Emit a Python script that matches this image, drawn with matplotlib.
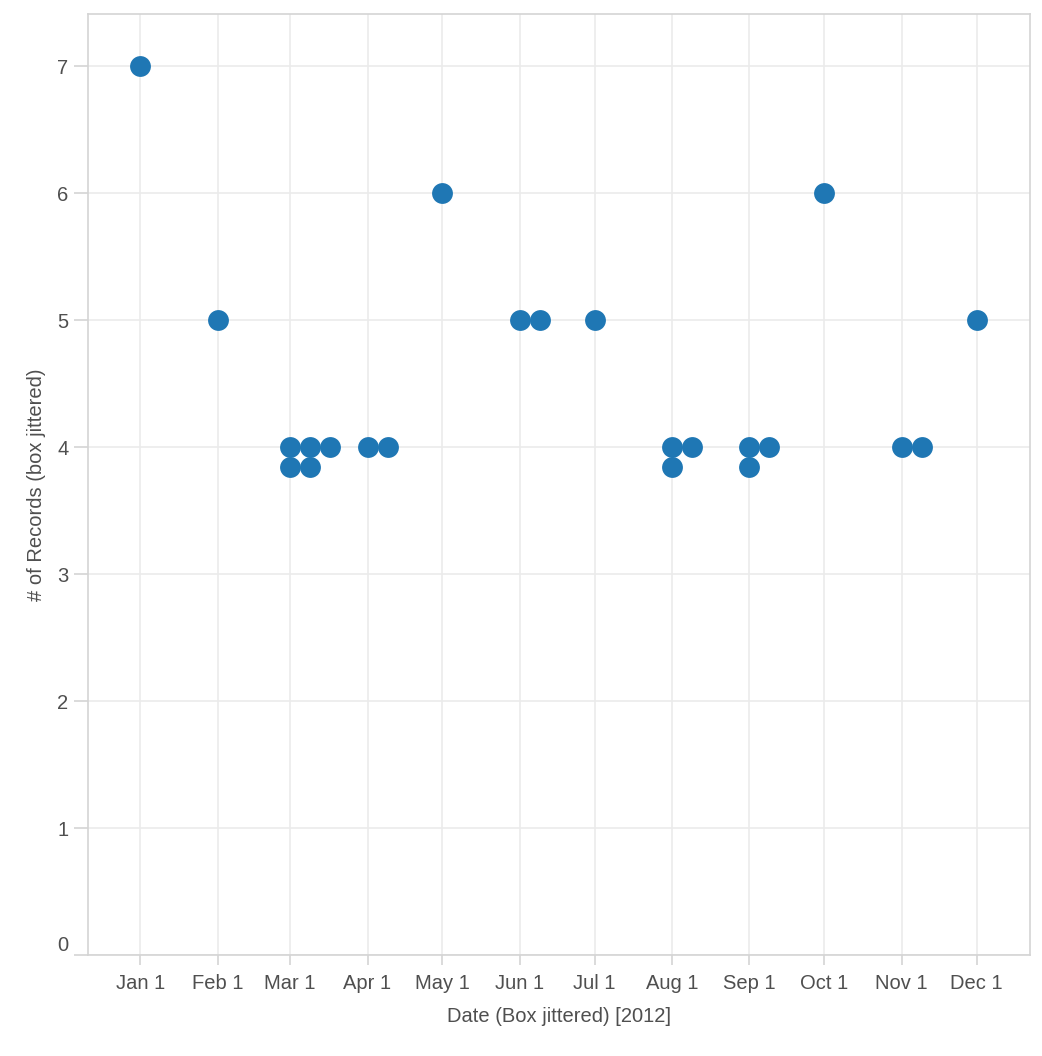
import matplotlib
matplotlib.use("Agg")
import matplotlib.pyplot as plt
import matplotlib.dates as mdates
import numpy as np
import datetime as dt

plt.rcParams['font.family'] = ['Liberation Sans', 'DejaVu Sans']

dates = ["2012-01-01", "2012-02-01",
         "2012-03-01", "2012-03-01", "2012-03-09", "2012-03-09", "2012-03-17",
         "2012-04-01", "2012-04-09",
         "2012-05-01",
         "2012-06-01", "2012-06-09",
         "2012-07-01",
         "2012-08-01", "2012-08-01", "2012-08-09",
         "2012-09-01", "2012-09-01", "2012-09-09",
         "2012-10-01",
         "2012-11-01", "2012-11-09",
         "2012-12-01"]
records = [7, 5,
           4, 3.84, 4, 3.84, 4,
           4, 4,
           6,
           5, 5,
           5,
           4, 3.84, 4,
           4, 3.84, 4,
           6,
           4, 4,
           5]
tick_dates = ["2012-%02d-01" % m for m in range(1, 13)]
tick_labels = ["Jan 1", "Feb 1", "Mar 1", "Apr 1", "May 1", "Jun 1",
               "Jul 1", "Aug 1", "Sep 1", "Oct 1", "Nov 1", "Dec 1"]
y_ticks = [0, 1, 2, 3, 4, 5, 6, 7]

W, H = 1042, 1056
fig = plt.figure(figsize=(W / 100, H / 100), dpi=100)
ax = fig.add_axes([88 / W, 1 - 955 / H, (1030 - 88) / W, (955 - 14) / H])

xd = [mdates.date2num(dt.datetime.strptime(d, "%Y-%m-%d")) for d in dates]
xt = [mdates.date2num(dt.datetime.strptime(d, "%Y-%m-%d")) for d in tick_dates]

ax.scatter(xd, records, s=225, color="#1f77b4", zorder=3, linewidths=0)

jan1 = xt[0]
ax.set_xlim(jan1 - 21, xt[-1] + 21.4)
ax.set_ylim(0, 7.41)

ax.set_xticks(xt)
ax.set_xticklabels(tick_labels)
ax.set_yticks(y_ticks)
ax.set_yticklabels([str(v) for v in y_ticks])

grid_c = "#ebebeb"
frame_c = "#d4d4d4"
txt_c = "#4f4f4f"
ax.grid(True, color=grid_c, linewidth=1.2, zorder=0)
ax.set_axisbelow(True)
for s in ax.spines.values():
    s.set_color(frame_c)
    s.set_linewidth(1.2)

ax.tick_params(axis='both', colors=frame_c, labelcolor=txt_c, labelsize=14.5,
               width=1.2)
ax.tick_params(axis='y', length=10, pad=4)
ax.tick_params(axis='x', length=7, pad=7)

# shift the "0" label upward like the reference
lbl0 = ax.get_yticklabels()[0]
lbl0.set_verticalalignment('bottom')

ax.set_xlabel("Date (Box jittered) [2012]", fontsize=14.5, color=txt_c, labelpad=10)
ax.set_ylabel("# of Records (box jittered)", fontsize=14.5, color=txt_c, labelpad=8)

fig.savefig("out.png", dpi=100)
